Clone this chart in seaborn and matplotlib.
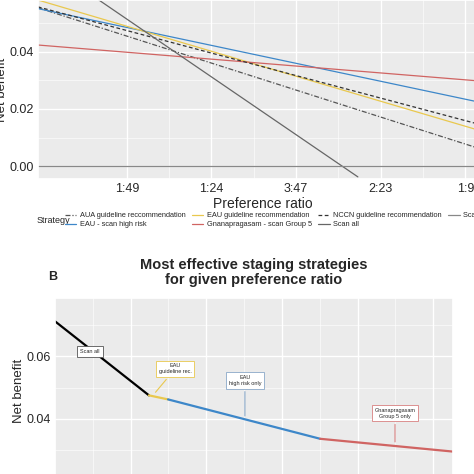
import matplotlib
matplotlib.use("Agg")
import matplotlib.pyplot as plt
import seaborn as sns
import pandas as pd

# panel A: net benefit lines (x in tick units, 1..5)
tick_pos = [1, 2, 3, 4, 5]
tick_labels = ["1:49", "1:24", "3:47", "2:23", "1:9"]
strategies = ["AUA guideline reccommendation", "EAU - scan high risk", "EAU guideline recommendation",
              "Gnanapragasam - scan Group 5", "NCCN guideline recommendation", "Scan all", "Scan none"]
x_start = [-0.05, -0.05, -0.05, -0.05, -0.05, 0.67, -0.05]
x_end = [5.27, 5.27, 5.27, 5.27, 5.27, 3.73, 5.27]
y_start = [0.0553, 0.0550, 0.0580, 0.0423, 0.0556, 0.0580, 0.0]
y_end = [0.0052, 0.0217, 0.0116, 0.0295, 0.0138, -0.0037, 0.0]
colors = ["#555555", "#3d87c9", "#e9c84e", "#d06462", "#333333", "#666666", "#888888"]
dashes = [(4, 1.5, 1, 1.5), "", "", "", (3, 2), "", ""]

# panel B: most effective strategy segments
seg_names = ["Scan all", "EAU guideline rec.", "EAU high risk", "Gnanapragasam Group 5"]
seg_x = [0.0, 0.236, 0.284, 0.666, 1.0]
seg_y = [0.0712, 0.0475, 0.0462, 0.0336, 0.0295]
seg_colors = ["#000000", "#e9c84e", "#3d87c9", "#d06462"]

sns.set_theme(style="darkgrid", rc={"axes.facecolor": "#ebebeb", "grid.color": "white"})
plt.rcParams["font.family"] = ["Liberation Sans", "DejaVu Sans"]

fig = plt.figure(figsize=(4.74, 4.74), dpi=100)

axA = fig.add_axes([0.080, 0.622, 0.95, 0.378])
rows = []
for i, s in enumerate(strategies):
    rows.append({"x": x_start[i], "y": y_start[i], "Strategy": s})
    rows.append({"x": x_end[i], "y": y_end[i], "Strategy": s})
dfA = pd.DataFrame(rows)
sns.lineplot(data=dfA, x="x", y="y", hue="Strategy", style="Strategy", palette=colors,
             dashes=dashes, linewidth=0.9, ax=axA, legend=True)
axA.set_xlim(-0.05, 5.27)
axA.set_ylim(-0.0045, 0.058)
axA.set_xticks(tick_pos)
axA.set_xticklabels(tick_labels)
axA.set_xticks([1.5, 2.5, 3.5, 4.5], minor=True)
axA.set_yticks([0.0, 0.02, 0.04])
axA.set_yticklabels(["0.00", "0.02", "0.04"])
axA.set_yticks([0.01, 0.03, 0.05], minor=True)
axA.grid(which="minor", color="white", linewidth=0.4)
axA.tick_params(labelsize=9, pad=1, length=2)
axA.set_xlabel("Preference ratio", fontsize=10, labelpad=1)
axA.set_ylabel("Net benefit", fontsize=9.5, labelpad=1)
h, l = axA.get_legend_handles_labels()
axA.get_legend().remove()
fig.legend(h, l, ncol=4, loc="center left",
           bbox_to_anchor=(0.13, 0.535), frameon=False, fontsize=5.3, handlelength=1.6,
           columnspacing=0.8, labelspacing=0.25, handletextpad=0.5, borderaxespad=0)
fig.text(0.078, 0.535, "Strategy", fontsize=6.5, va="center")

axB = fig.add_axes([0.116, -0.02, 0.840, 0.391])
for i, name in enumerate(seg_names):
    dseg = pd.DataFrame({"x": seg_x[i:i + 2], "y": seg_y[i:i + 2]})
    sns.lineplot(data=dseg, x="x", y="y", color=seg_colors[i], linewidth=1.6, ax=axB)
axB.set_xlim(0, 1)
axB.set_ylim(0.0193, 0.0786)
axB.set_xticks([0.19, 0.38, 0.57, 0.76, 0.95])
axB.set_xticks([0.095, 0.285, 0.475, 0.665, 0.855], minor=True)
axB.set_xticklabels([])
axB.set_yticks([0.02, 0.04, 0.06])
axB.set_yticklabels(["0.02", "0.04", "0.06"])
axB.set_yticks([0.03, 0.05, 0.07], minor=True)
axB.grid(which="minor", color="white", linewidth=0.4)
axB.tick_params(labelsize=9, pad=1, length=2)
axB.set_xlabel("")
axB.set_ylabel("Net benefit", fontsize=9.5, labelpad=1)

def box(ax, txt, xy, xytext, ec):
    ax.annotate(txt, xy=xy, xytext=xytext, fontsize=4, ha="center", va="center",
                bbox=dict(boxstyle="square,pad=0.5", fc="white", ec=ec, lw=0.6),
                arrowprops=dict(arrowstyle="-", color=ec, lw=0.8))

box(axB, "Scan all", (0.088, 0.0615), (0.088, 0.0615), "#555555")
box(axB, "EAU\nguideline rec.", (0.248, 0.0478), (0.302, 0.056), "#e9c84e")
box(axB, "EAU\nhigh risk only", (0.477, 0.040), (0.477, 0.0523), "#8aa8c8")
box(axB, "Gnanapragasam\nGroup 5 only", (0.854, 0.0317), (0.854, 0.0418), "#d88080")

fig.text(0.535, 0.425, "Most effective staging strategies\nfor given preference ratio",
         fontsize=10.5, fontweight="bold", ha="center", va="center", linespacing=1.1)
fig.text(0.112, 0.415, "B", fontsize=9, fontweight="bold", ha="center", va="center")

fig.savefig("out.png", dpi=100)
